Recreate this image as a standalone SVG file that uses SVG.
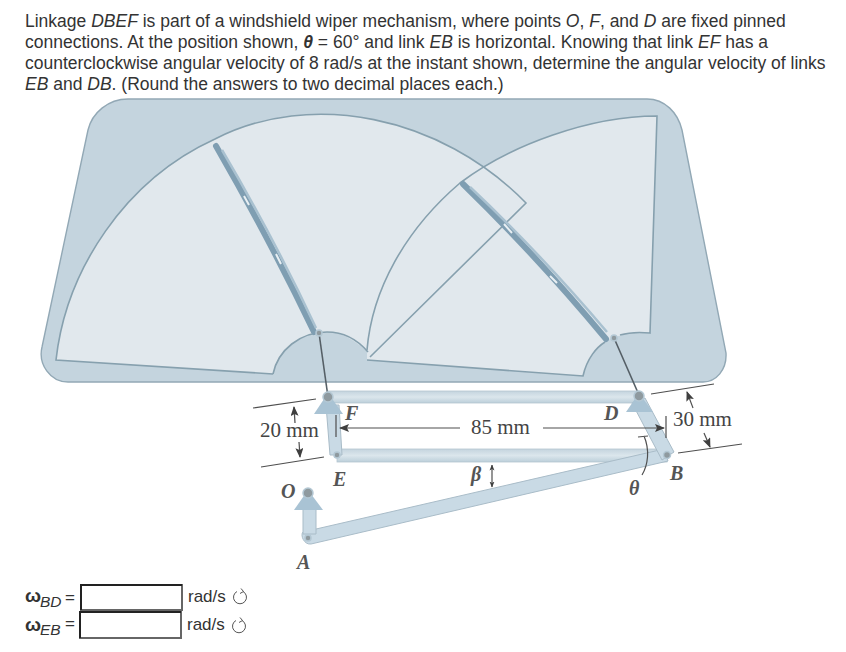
<svg xmlns="http://www.w3.org/2000/svg" width="846" height="652" viewBox="0 0 846 652">
<style>
.t{font:17.5px "Liberation Sans",Arial,sans-serif;fill:#333}
.a{font:17px "Liberation Sans",Arial,sans-serif;fill:#333}
.i{font-style:italic}
.s{font:21px "Liberation Serif","Times New Roman",serif;fill:#444}
.l{font:italic bold 20px "Liberation Serif","Times New Roman",serif;fill:#555}
.sweep{fill:#e1e8ed;stroke:none}
.edge{fill:none;stroke:#86a0ae;stroke-width:1.6}
.dim{fill:none;stroke:#4f4f4f;stroke-width:1.2}
.bar{fill:#c9dae5;stroke:#a9bcc8;stroke-width:1}
.hbar{fill:url(#bg);stroke:#b4c5d0;stroke-width:.8}
.tri{fill:#a9c3d4}
.pin{fill:#8f9a9f;stroke:#b4c8d4;stroke-width:1.5}
.rod{stroke:#555f66;stroke-width:1.6;fill:none}
.blade{fill:none;stroke:#7f9eb2;stroke-width:6;stroke-linecap:round}
.hi{fill:none;stroke:#a9c1d0;stroke-width:2.5}
.slit{fill:none;stroke:#e8eff3;stroke-width:2}
.box{fill:#fff;stroke-width:2;stroke:#666}
.tl{fill:none;stroke:#222;stroke-width:2}
.ic{fill:none;stroke:#555;stroke-width:1}
</style>
<defs>
<marker id="ah" markerWidth="10" markerHeight="8" refX="9" refY="4" orient="auto" markerUnits="userSpaceOnUse"><path d="M0 0L10 4L0 8L2 4Z" fill="#3f3f3f"/></marker>
<marker id="sm" markerWidth="6" markerHeight="6" refX="5.5" refY="3" orient="auto" markerUnits="userSpaceOnUse"><path d="M0 .5L6 3L0 5.5L1.500 3Z" fill="#3f3f3f"/></marker>
<linearGradient id="bg" x1="0" y1="0" x2="0" y2="1"><stop offset="0" stop-color="#c4d4de"/><stop offset=".5" stop-color="#dbe6ec"/><stop offset="1" stop-color="#bccfda"/></linearGradient>
</defs>
<rect width="846" height="652" fill="#fff"/>
<g id="problem-text">
<text class="t" x="25" y="27">Linkage <tspan class="i">DBEF</tspan> is part of a windshield wiper mechanism, where points <tspan class="i">O</tspan>, <tspan class="i">F</tspan>, and <tspan class="i">D</tspan> are fixed pinned</text>
<text class="t" x="25" y="48">connections. At the position shown, <tspan class="i" font-weight="bold">θ</tspan> = 60° and link <tspan class="i">EB</tspan> is horizontal. Knowing that link <tspan class="i">EF</tspan> has a</text>
<text class="t" x="25" y="69">counterclockwise angular velocity of 8 rad/s at the instant shown, determine the angular velocity of links</text>
<text class="t" x="25" y="90"><tspan class="i">EB</tspan> and <tspan class="i">DB</tspan>. (Round the answers to two decimal places each.)</text>
</g>
<g id="windshield">
<path d="M128 99H647C665 99 678 113 682 130L726 353C727 370 716 382 703 382H68C50 382 38 364 42 347L88 130C92 113 108 99 128 99Z" fill="#c4d4de" stroke="#92a8b5" stroke-width="1.4"/>
</g>
<g id="sweeps">
<path class="sweep" d="M56 360C66 270 125 180 215 139C310 90 440 115 526 203L370 357C378 355 360 345 368 352C352 338 340 332 327 332C300 332 278 350 273 374Z"/>
<path class="sweep" d="M367 360L583 376C587 358 597 347 605 342C620 333 635 332 650 333L657 116C590 116 510 145 460 183C405 230 372 290 367 347Z"/>
<path class="edge" d="M273 374L56 360C66 270 125 180 215 139C310 90 440 115 526 203L370 357"/>
<path class="edge" d="M273 374C278 350 300 332 327 332C342 332 356 338 368 352"/>
<path class="edge" stroke-width="1.2" d="M367 360L583 376C587 358 597 347 605 342M620 335C630 332 640 332 650 333L657 116C590 116 510 145 460 183C405 230 372 290 367 350"/>
</g>
<g id="wiper-left">
<path class="blade" d="M216 146Q270 240 314 332"/>
<path class="hi" d="M222 150Q275 240 316 328"/>
<path class="slit" d="M244 196L249 205M276 254L281 264"/>
</g>
<g id="wiper-right">
<path class="blade" d="M463 184Q535.500 254.500 606 339"/>
<path class="hi" d="M470 187Q540 253 607 332"/>
<path class="slit" d="M504 224L512 233M550 276L557 283"/>
</g>
<g id="connectors">
<path class="rod" d="M319 333L328 397"/>
<path class="rod" d="M614 338L639 395"/>
<rect class="hbar" x="328" y="391" width="311" height="12"/>
<rect class="hbar" x="337" y="449" width="330" height="13"/>
<path class="bar" d="M303 532L664 449L668 461L311 544C304 545 300 535 303 532Z"/>
<path class="bar" d="M326 405H339L342 455H330Z"/>
<path class="bar" d="M303 508H316V534H303Z"/>
<path class="bar" d="M632 403L645 398L674 452L662 460Z"/>
</g>
<g id="node-F"><path class="tri" d="M328 393L343 414H314Z"/><circle class="pin" cx="328" cy="397" r="5"/><text class="l" x="345" y="420">F</text></g>
<g id="node-D"><path class="tri" d="M639 393L653 412H626Z"/><circle class="pin" cx="639" cy="396" r="5"/><text class="l" x="604" y="420">D</text></g>
<g id="node-O"><path class="tri" d="M308 490L323 510H294Z"/><circle class="pin" cx="308" cy="493" r="5"/><text class="l" x="281" y="498">O</text></g>
<g id="node-E"><circle class="pin" cx="337" cy="455" r="3"/><text class="l" x="333" y="486">E</text></g>
<g id="node-A"><circle class="pin" cx="308" cy="538" r="3"/><text class="l" x="297" y="569">A</text></g>
<g id="node-B"><circle class="pin" cx="667" cy="455" r="3.500"/><text class="l" x="670" y="480">B</text></g>
<circle class="pin" cx="319" cy="333" r="3"/>
<circle class="pin" cx="614" cy="338" r="3"/>
<g id="dimensions">
<path class="dim" d="M253 408L316 399M261 467L324 457M651 394L714 384M678 453L742 444"/>
<path class="dim" d="M295 423L294 407" marker-end="url(#ah)"/>
<path class="dim" d="M299 442L300 457" marker-end="url(#ah)"/>
<path class="dim" d="M693 408L687 392" marker-end="url(#ah)"/>
<path class="dim" d="M704 433L710 447" marker-end="url(#ah)"/>
<path class="dim" d="M336 415V437M666 416V438"/>
<path class="dim" d="M460 428H340" marker-end="url(#ah)"/>
<path class="dim" d="M543 428H664" marker-end="url(#ah)"/>
<path class="dim" d="M492 476V465" marker-end="url(#sm)"/>
<path class="dim" d="M492 476V487" marker-end="url(#sm)"/>
<path class="dim" d="M638 437L648 436M644 436C650 450 648 465 642 475"/>
<text class="s" x="260" y="437">20 mm</text>
<text class="s" x="471" y="434">85 mm</text>
<text class="s" x="673" y="426">30 mm</text>
<text class="l" x="471" y="481">β</text>
<text class="l" x="629" y="495">θ</text>
</g>
<g id="answers">
<text class="a" x="25" y="602" font-weight="bold" font-size="19" style="font-size:19px;font-weight:bold">ω</text>
<text class="a i" x="40" y="607" style="font-size:15.5px">BD</text>
<text class="a" x="65" y="603">=</text>
<rect class="box" x="81" y="585" width="101" height="25"/>
<path class="tl" d="M81 610V585H182"/>
<text class="a" x="188" y="602">rad/s</text>
<path class="ic" d="M243 591.500A6.500 6.500 0 1 1 237 591.500M241 588.500L243.500 591.500L240 593.500"/>
<text class="a" x="25" y="631" style="font-size:19px;font-weight:bold">ω</text>
<text class="a i" x="40" y="635" style="font-size:15.5px">EB</text>
<text class="a" x="65" y="629">=</text>
<rect class="box" x="80" y="612" width="101" height="26"/>
<path class="tl" d="M80 638V612H181"/>
<text class="a" x="187" y="630">rad/s</text>
<path class="ic" d="M242 620.500A6.500 6.500 0 1 1 236 620.500M240 617.500L242.500 620.500L239 622.500"/>
</g>
</svg>
